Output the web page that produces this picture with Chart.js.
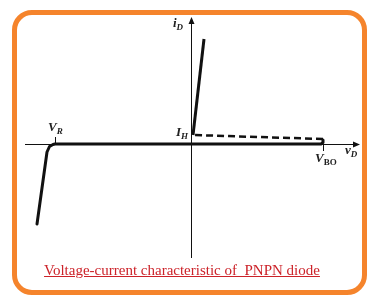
<!DOCTYPE html>
<html>
<head>
<meta charset="utf-8">
<script src="https://cdn.jsdelivr.net/npm/chart.js@4.4.1/dist/chart.umd.min.js"></script>
<style>
  html, body { margin: 0; padding: 0; background: #fff; }
  #wrap { position: relative; width: 372px; height: 302px; overflow: hidden; }
  #frame {
    position: absolute; left: 12px; top: 10px; width: 345px; height: 275px;
    border: 5px solid #F5842C; border-radius: 20px;
  }
  #chart { position: absolute; left: 0; top: 0; }
  #caption {
    position: absolute; left: 0; width: 364px; top: 262px; text-align: center;
    font-family: 'Liberation Serif', 'Times New Roman', Times, serif; font-size: 15px;
    color: #CC2229; text-decoration: underline; white-space: pre;
  }
</style>
</head>
<body>
<div id="wrap">
  <div id="frame"></div>
  <canvas id="chart" width="372" height="302"></canvas>
  <div id="caption">Voltage-current characteristic of  PNPN diode</div>
</div>
<script>
'use strict';

// device characteristic, arbitrary units (vD across, iD up)
var reverseV = [-30.8, -28.8, -28.3, -27.6, -27.2, 26.0, 26.4, 26.4];
var reverseI = [-16.0, -1.6, -0.5, -0.1, 0.0, 0.0, 0.3, 0.8];
var negResV = [26.4, 0.4];
var negResI = [1.0, 1.8];
var onV = [0.4, 2.6];
var onI = [1.8, 21.0];

var vR = -27.2;   // reverse breakdown
var vBO = 26.4;   // breakover voltage
var iH = 1.8;     // holding current

var toPoints = function(xs, ys) {
    return xs.map(function(x, i) { return { x: x, y: ys[i] }; });
};

var serif = "'Liberation Serif', 'Times New Roman', serif";

// draws "main" with a subscript at (x, baseline)
var subLabel = function(ctx, main, sub, x, y, subUpright) {
    ctx.font = 'italic bold 13px ' + serif;
    ctx.fillText(main, x, y);
    var w = ctx.measureText(main).width;
    ctx.font = (subUpright ? '' : 'italic ') + 'bold 9px ' + serif;
    ctx.fillText(sub, x + w, y + 3);
};

var axesPlugin = {
    id: 'axesPlugin',
    beforeDatasetsDraw: function(chart) {
        var ctx = chart.ctx;
        var xs = chart.scales.x, ys = chart.scales.y;
        var area = chart.chartArea;
        var x0 = xs.getPixelForValue(0), y0 = ys.getPixelForValue(0);

        ctx.save();
        ctx.strokeStyle = '#111';
        ctx.fillStyle = '#111';
        ctx.lineWidth = 1;

        // horizontal axis
        ctx.beginPath();
        ctx.moveTo(area.left, y0 + 0.5);
        ctx.lineTo(area.right - 4, y0 + 0.5);
        ctx.stroke();
        ctx.beginPath();
        ctx.moveTo(area.right, y0 + 0.5);
        ctx.lineTo(area.right - 7, y0 - 2.5);
        ctx.lineTo(area.right - 7, y0 + 3.5);
        ctx.closePath();
        ctx.fill();

        // vertical axis
        ctx.beginPath();
        ctx.moveTo(x0 + 0.5, area.bottom);
        ctx.lineTo(x0 + 0.5, area.top + 4);
        ctx.stroke();
        ctx.beginPath();
        ctx.moveTo(x0 + 0.5, area.top);
        ctx.lineTo(x0 - 2.5, area.top + 7);
        ctx.lineTo(x0 + 3.5, area.top + 7);
        ctx.closePath();
        ctx.fill();

        // small ticks at V_R and V_BO
        var pR = xs.getPixelForValue(vR), pBO = xs.getPixelForValue(vBO);
        ctx.beginPath();
        ctx.moveTo(pR + 0.5, y0);
        ctx.lineTo(pR + 0.5, y0 - 7);
        ctx.moveTo(pBO + 0.5, y0);
        ctx.lineTo(pBO + 0.5, y0 + 7);
        ctx.stroke();

        // labels
        ctx.fillStyle = '#222';
        ctx.textBaseline = 'alphabetic';
        subLabel(ctx, 'i', 'D', x0 - 18, area.top + 10);
        subLabel(ctx, 'v', 'D', area.right - 15, y0 + 10);
        subLabel(ctx, 'V', 'R', pR - 7, y0 - 13);
        subLabel(ctx, 'I', 'H', x0 - 15, ys.getPixelForValue(iH) + 1);
        subLabel(ctx, 'V', 'BO', pBO - 8, y0 + 18, true);
        ctx.restore();
    }
};

var config = {
    type: 'scatter',
    data: {
        datasets: [{
            label: 'Blocking / reverse',
            data: toPoints(reverseV, reverseI),
            showLine: true,
            borderColor: '#111',
            borderWidth: 3,
            pointRadius: 0,
            borderCapStyle: 'round',
            borderJoinStyle: 'round'
        }, {
            label: 'Negative resistance',
            data: toPoints(negResV, negResI),
            showLine: true,
            borderColor: '#111',
            borderWidth: 2.5,
            borderDash: [7, 4],
            pointRadius: 0
        }, {
            label: 'On state',
            data: toPoints(onV, onI),
            showLine: true,
            borderColor: '#111',
            borderWidth: 3,
            pointRadius: 0
        }]
    },
    options: {
        responsive: false,
        animation: false,
        layout: { padding: { left: 25, right: 12, top: 17, bottom: 44 } },
        plugins: {
            legend: { display: false },
            tooltip: { enabled: false }
        },
        scales: {
            x: { type: 'linear', display: false, min: -33.2, max: 33.8 },
            y: { type: 'linear', display: false, min: -22.8, max: 25.4 }
        }
    },
    plugins: [axesPlugin]
};

var ctx = document.getElementById('chart').getContext('2d');
window.pnpnChart = new Chart(ctx, config);
</script>
</body>
</html>
